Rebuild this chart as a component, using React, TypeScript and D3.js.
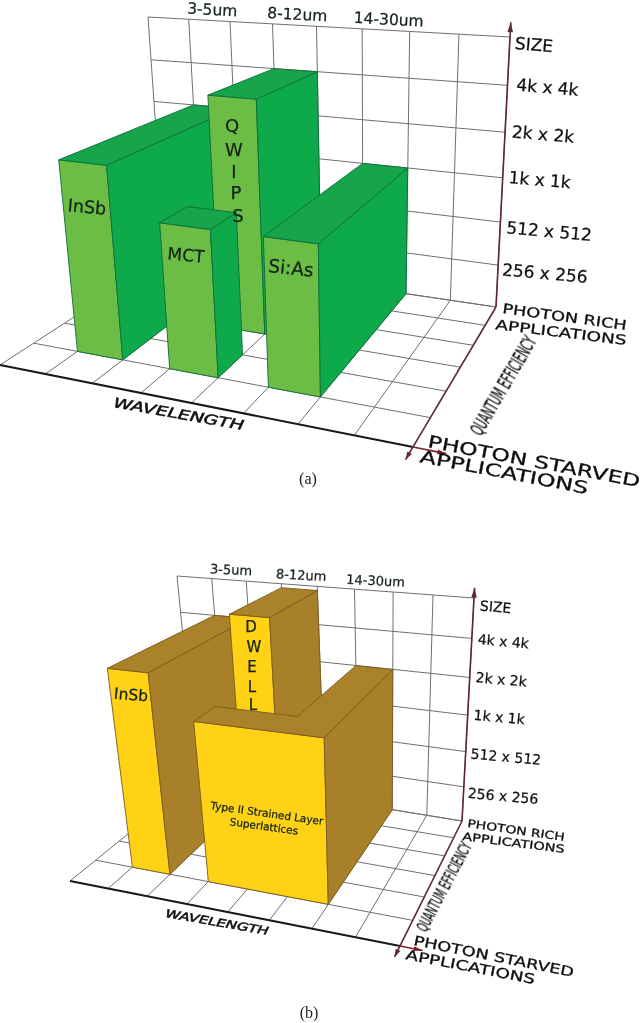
import React from "react";
import * as d3 from "d3";

type Pt = [number, number];

// ---- data ----
const wavelengthBands = ["3-5um", "8-12um", "14-30um"];
const bandCentres = [1.5, 3.5, 5.5];
const sizeTicks = ["256 x 256", "512 x 512", "1k x 1k", "2k x 2k", "4k x 4k", "SIZE"];
const columnCount = 8;
const rowCount = 6;
const levelCount = 6;

const greenNames = ["InSb", "QWIPS", "MCT", "Si:As"];
const greenFootprints: Pt[][] = [
  [[1, 1], [2, 1], [2, 6], [1, 6]],
  [[3, 3], [4, 3], [4, 6], [3, 6]],
  [[3, 1], [4, 1], [4, 2], [3, 2]],
  [[5, 1], [6, 1], [6, 6], [5, 6]],
];
const greenHeights = [4, 5, 3, 3];

const yellowNames = ["InSb", "DWELL", "Type II Strained Layer Superlattices"];
const yellowFootprints: Pt[][] = [
  [[1, 1], [2, 1], [2, 6], [1, 6]],
  [[3, 3], [4, 3], [4, 6], [3, 6]],
  [[3, 1], [6, 1], [6, 6], [5, 6], [5, 2], [3, 2]],
];
const yellowHeights = [5, 5.9, 4];

// ---- perspective built with d3 scales ----
const uScale = d3.scaleLinear().domain([0, columnCount]).range([0, 1]);
const vScale = d3.scaleLinear().domain([0, rowCount]).range([0, 1]);
const wScale = d3.scaleLinear().domain([0, levelCount]).range([0, 1]);

function makeProjection(fl: Pt, fr: Pt, br: Pt, bl: Pt, tl: Pt, tr: Pt, m1: number, bow: number) {
  const [x0, y0] = fl, [x1, y1] = fr, [x2, y2] = br, [x3, y3] = bl;
  const dx1 = x1 - x2, dx2 = x3 - x2, sx = x0 - x1 + x2 - x3;
  const dy1 = y1 - y2, dy2 = y3 - y2, sy = y0 - y1 + y2 - y3;
  const den = dx1 * dy2 - dx2 * dy1;
  const g = (sx * dy2 - dx2 * sy) / den;
  const h = (dx1 * sy - sx * dy1) / den;
  const a = x1 - x0 + g * x1, b = x3 - x0 + h * x3, c = x0;
  const d = y1 - y0 + g * y1, e = y3 - y0 + h * y3, f = y0;
  // vertical vanishing point from the far-left lean and the right wall edge
  const m2 = (br[0] - tr[0]) / (br[1] - tr[1]);
  const vy = (tr[0] - tl[0] + m1 * tl[1] - m2 * tr[1]) / (m1 - m2);
  const vx = tl[0] + m1 * (vy - tl[1]);
  const C = g + h + 1, B = d + e + f;
  const s = (tr[1] * C - B) / (vy - tr[1]);
  const camera = (u: number, v: number, w: number): Pt => {
    const q = g * u + h * v + 1 + w * s;
    return [(a * u + b * v + c + w * s * vx) / q, (d * u + e * v + f + w * s * vy) / q];
  };
  // small corrections so that the measured top edge of the wall is met
  const C0 = h + 1, B0 = e + f;
  const wLeft = (tl[1] * C0 - B0) / (s * (vy - tl[1]));
  const ex = tl[0] - camera(0, 1, wLeft)[0];
  return (gx: number, gy: number, gz = 0): Pt => {
    const u = uScale(gx), v = vScale(gy), w = wScale(gz);
    const q = camera(u, v, w * (1 + (wLeft - 1) * (1 - u)));
    const inside = Math.min(Math.max(u, 0), 1);
    return [q[0] + (ex * Math.pow(1 - inside, 5) - bow * Math.sin(Math.PI * inside)) * w, q[1]];
  };
}

const pathOf = d3.line<Pt>().x((p) => p[0]).y((p) => p[1]);
const closed = (pts: Pt[]) => pathOf(pts) + "Z";
const FONT = "'DejaVu Sans', sans-serif";

function Stretched({ from, to, text, size, weight, italic, stroke }: { from: Pt; to: Pt; text: string; size: number; weight?: number; italic?: boolean; stroke?: number }) {
  const dx = to[0] - from[0], dy = to[1] - from[1];
  const angle = (Math.atan2(dy, dx) * 180) / Math.PI;
  return (
    <text
      transform={`translate(${from[0]},${from[1]}) rotate(${angle})`}
      textLength={Math.hypot(dx, dy)}
      lengthAdjust="spacingAndGlyphs"
      fontSize={size}
      fontFamily={FONT}
      fontWeight={weight ?? 400}
      fontStyle={italic ? "italic" : "normal"}
      fill="#111"
      stroke="#111"
      strokeWidth={stroke ?? 0.3}
    >
      {text}
    </text>
  );
}

function Centered({ at, text, size, angle }: { at: Pt; text: string; size: number; angle: number }) {
  return (
    <text
      transform={`translate(${at[0]},${at[1]}) rotate(${angle})`}
      textAnchor="middle"
      dominantBaseline="central"
      fontSize={size}
      fontFamily={FONT}
      fill="#14231a"
      stroke="#14231a"
      strokeWidth={0.25}
    >
      {text}
    </text>
  );
}

function Arrow({ from, to, len, half, color }: { from: Pt; to: Pt; len: number; half: number; color: string }) {
  const dx = to[0] - from[0], dy = to[1] - from[1];
  const n = Math.hypot(dx, dy);
  const ux = dx / n, uy = dy / n;
  const base: Pt = [to[0] - ux * len, to[1] - uy * len];
  const head: Pt[] = [to, [base[0] - uy * half, base[1] + ux * half], [base[0] + uy * half, base[1] - ux * half]];
  return (
    <g>
      <path d={pathOf([from, to]) ?? ""} stroke={color} strokeWidth={1.6} fill="none" />
      <path d={closed(head)} fill={color} />
    </g>
  );
}

interface LabelSpec { at: Pt; text: string; size: number; angle: number; under?: boolean }
interface PanelSpec {
  corners: [Pt, Pt, Pt, Pt, Pt, Pt];
  lean: number;
  bow: number;
  footprints: Pt[][];
  heights: number[];
  front: string;
  side: string;
  top: string;
  edge: string;
  labels: LabelSpec[];
  tickSize: number;
  tickOffsets: Pt[];
  tickAngle: number;
  bandSize: number;
  bandOffset: Pt;
  overX: number;
  overY: number;
  overZ: number;
  wave: [Pt, Pt, number];
  rich: [Pt, Pt, Pt, Pt, number];
  starved: [Pt, Pt, Pt, Pt, number];
  quantum: [Pt, Pt, number];
  caption: Pt;
  captionText: string;
}

function Panel({ spec }: { spec: PanelSpec }) {
  const [fl, fr, br, bl, tl, tr] = spec.corners;
  const P = makeProjection(fl, fr, br, bl, tl, tr, spec.lean, spec.bow);
  const grid = "#6f6f6f";
  const cols = d3.range(0, columnCount + 1);
  const rows = d3.range(0, rowCount + 1);
  const levels = d3.range(0, levelCount + 1);
  const lines: Pt[][] = [
    ...cols.map((i) => [P(i, rowCount, 0), P(i, rowCount, levelCount)] as Pt[]),
    ...levels.map((k) => [P(0, rowCount, k), P(columnCount, rowCount, k)] as Pt[]),
    ...cols.slice(0, -1).map((i) => [P(i, 0, 0), P(i, rowCount, 0)] as Pt[]),
    ...rows.slice(1).map((j) => [P(0, j, 0), P(columnCount, j, 0)] as Pt[]),
  ];
  return (
    <g>
      {lines.map((l, i) => (
        <path key={i} d={pathOf(l) ?? ""} stroke={grid} strokeWidth={1} fill="none" />
      ))}
      <path d={pathOf([P(0, 0), P(columnCount, 0)]) ?? ""} stroke="#1c1616" strokeWidth={2} fill="none" />
      <Arrow from={P(columnCount, rowCount)} to={P(columnCount, spec.overY)} len={8} half={2.6} color="#5b2a2e" />
      <Arrow from={P(columnCount, 0)} to={P(spec.overX, 0)} len={9} half={2.4} color="#7a2028" />
      <Arrow from={P(columnCount, rowCount)} to={P(columnCount, rowCount, spec.overZ)} len={10} half={2.8} color="#5b2a2e" />
      {spec.footprints.map((fp, i) => {
        const z = spec.heights[i];
        const faces = fp.map((p, j) => {
          const q = fp[(j + 1) % fp.length];
          const quad = [P(p[0], p[1]), P(q[0], q[1]), P(q[0], q[1], z), P(p[0], p[1], z)];
          if (q[0] > p[0]) return <path key={j} d={closed(quad)} fill={spec.front} stroke={spec.edge} strokeWidth={0.9} />;
          if (q[1] > p[1]) return <path key={j} d={closed(quad)} fill={spec.side} stroke={spec.edge} strokeWidth={0.9} />;
          return null;
        });
        const label = spec.labels.filter((l) => l.under && i === 1);
        return (
          <g key={i}>
            {faces}
            <path d={closed(fp.map((p) => P(p[0], p[1], z)))} fill={spec.top} stroke={spec.edge} strokeWidth={0.9} />
            {label.map((l, n) => (
              <Centered key={n} at={l.at} text={l.text} size={l.size} angle={l.angle} />
            ))}
          </g>
        );
      })}
      {spec.labels.filter((l) => !l.under).map((l, n) => (
        <Centered key={n} at={l.at} text={l.text} size={l.size} angle={l.angle} />
      ))}
      {wavelengthBands.map((b, i) => {
        const p = P(bandCentres[i], rowCount, levelCount);
        return <Centered key={b} at={[p[0] + spec.bandOffset[0], p[1] + spec.bandOffset[1]]} text={b} size={spec.bandSize} angle={3} />;
      })}
      {sizeTicks.map((t, i) => {
        const p = P(columnCount, rowCount, i + 1);
        const off = spec.tickOffsets[i];
        return (
          <text
            key={t}
            transform={`translate(${p[0] + off[0]},${p[1] + off[1]}) rotate(${spec.tickAngle})`}
            fontSize={spec.tickSize}
            fontFamily={FONT}
            dominantBaseline="central"
            fill="#111"
            stroke="#111"
            strokeWidth={0.25}
          >
            {t}
          </text>
        );
      })}
      <Stretched from={spec.wave[0]} to={spec.wave[1]} text="WAVELENGTH" size={spec.wave[2]} italic stroke={0.5} />
      <Stretched from={spec.rich[0]} to={spec.rich[1]} text="PHOTON RICH" size={spec.rich[4]} />
      <Stretched from={spec.rich[2]} to={spec.rich[3]} text="APPLICATIONS" size={spec.rich[4]} />
      <Stretched from={spec.starved[0]} to={spec.starved[1]} text="PHOTON STARVED" size={spec.starved[4]} />
      <Stretched from={spec.starved[2]} to={spec.starved[3]} text="APPLICATIONS" size={spec.starved[4]} />
      <Stretched from={spec.quantum[0]} to={spec.quantum[1]} text="QUANTUM EFFICIENCY" size={spec.quantum[2]} />
      <text x={spec.caption[0]} y={spec.caption[1]} fontFamily="'Liberation Serif', serif" fontSize={16} fill="#222" textAnchor="middle">
        {spec.captionText}
      </text>
    </g>
  );
}

const letters = (word: string, xs: number[], ys: number[], size: number, under?: boolean): LabelSpec[] =>
  word.split("").map((ch, i) => ({ at: [xs[i], ys[i]] as Pt, text: ch, size, angle: 0, under }));

const panelA: PanelSpec = {
  corners: [[0, 365], [413, 447], [496, 307], [165, 258], [148, 17], [510, 37]],
  lean: 0.058,
  bow: 3,
  footprints: greenFootprints,
  heights: greenHeights,
  front: "#6cbd45",
  side: "#0fa94b",
  top: "#12a54c",
  edge: "#0b6e38",
  labels: [
    { at: [87, 207], text: greenNames[0], size: 17.5, angle: 5 },
    { at: [186, 255], text: greenNames[2], size: 17, angle: 5 },
    { at: [291, 268], text: greenNames[3], size: 18.5, angle: 6 },
    ...letters(greenNames[1], [232, 234, 234, 236, 238], [125, 149, 171, 192, 215], 18),
  ],
  tickSize: 17,
  tickOffsets: [[4, 4.3], [6, 5.3], [6, -0.8], [7, -0.8], [9, -0.8], [5, 6]],
  tickAngle: 5,
  bandSize: 15.5,
  bandOffset: [3, -10.5],
  overX: 8.55,
  overY: -0.4,
  overZ: 6.3,
  wave: [[113, 407], [243, 430], 13.5],
  rich: [[502, 313], [626, 330], [495, 329], [626, 345], 13.5],
  starved: [[427, 447], [639, 487], [419, 462], [587, 494], 17],
  quantum: [[481, 437], [537, 341], 19],
  caption: [308, 484],
  captionText: "(a)",
};

const panelB: PanelSpec = {
  corners: [[70, 881], [400, 946], [462, 821], [197, 778], [177, 576], [474, 598]],
  lean: 0.074,
  bow: 5,
  footprints: yellowFootprints,
  heights: yellowHeights,
  front: "#ffd216",
  side: "#a8802c",
  top: "#aa822a",
  edge: "#7b5a1c",
  labels: [
    { at: [131, 695], text: yellowNames[0], size: 15.5, angle: 5 },
    ...letters(yellowNames[1], [251, 254, 252, 252, 253], [627, 647, 667, 687, 705], 15, true),
    { at: [267, 813], text: "Type II Strained Layer", size: 10.5, angle: 8 },
    { at: [264, 826], text: "Superlattices", size: 10.5, angle: 8 },
  ],
  tickSize: 14,
  tickOffsets: [[4, 6], [5, 2], [6, -0.3], [6, -0.3], [6, 0.7], [6, 7.5]],
  tickAngle: 5,
  bandSize: 13,
  bandOffset: [2, -10],
  overX: 8.5,
  overY: -0.4,
  overZ: 6.25,
  wave: [[165, 917], [268, 935], 11],
  rich: [[467, 827], [564, 841], [462, 840], [564, 853], 11],
  starved: [[413, 945], [573, 977], [405, 959], [534, 984], 13.5],
  quantum: [[426, 933], [472, 846], 16],
  caption: [309, 1018],
  captionText: "(b)",
};

export default function App() {
  return (
    <svg width={640} height={1023} viewBox="0 0 640 1023" style={{ position: "absolute", left: 0, top: 0 }}>
      <defs>
        <filter id="soft" x="0" y="0" width="100%" height="100%">
          <feGaussianBlur stdDeviation={0.4} />
        </filter>
      </defs>
      <rect width={640} height={1023} fill="#fff" />
      <g filter="url(#soft)">
        <Panel spec={panelA} />
        <Panel spec={panelB} />
      </g>
    </svg>
  );
}
